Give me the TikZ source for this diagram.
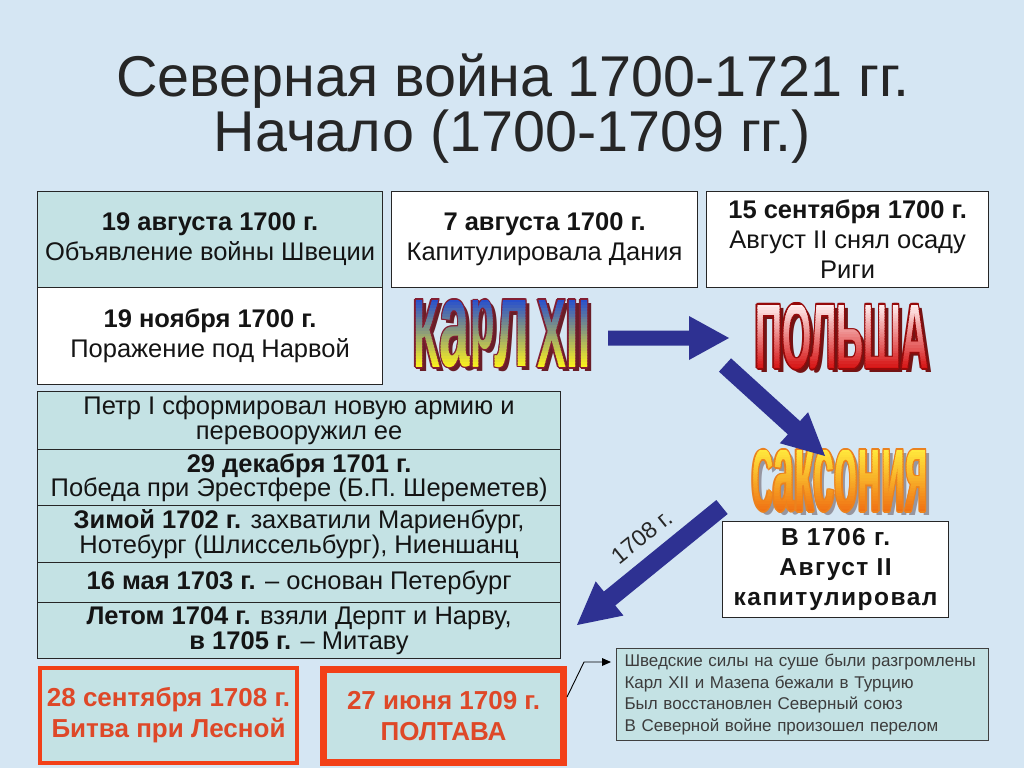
\documentclass[tikz,border=0pt]{standalone}
\usepackage{fontspec}
\setmainfont{Liberation Sans}
\usetikzlibrary{calc}
\definecolor{bgc}{RGB}{213,230,243}
\definecolor{tealc}{RGB}{196,226,228}
\definecolor{redb}{RGB}{242,64,24}
\definecolor{redt}{RGB}{222,72,40}
\definecolor{arrc}{RGB}{46,49,146}
\definecolor{titc}{RGB}{38,38,38}
\definecolor{txtc}{RGB}{20,20,20}
\definecolor{smallc}{RGB}{60,60,60}
\definecolor{karltop}{RGB}{40,80,205}
\definecolor{karlbot}{RGB}{250,240,30}
\definecolor{karlout}{RGB}{130,30,50}
\definecolor{karlsh}{RGB}{105,30,40}
\definecolor{poltop}{RGB}{255,238,238}
\definecolor{polbot}{RGB}{215,20,20}
\definecolor{polout}{RGB}{150,10,10}
\definecolor{polsh}{RGB}{115,20,20}
\definecolor{saxtop}{RGB}{255,232,60}
\definecolor{saxbot}{RGB}{240,115,20}
\definecolor{saxout}{RGB}{235,130,30}
\definecolor{saxsh}{RGB}{150,150,160}

\tikzset{
  box/.style={draw=black!85, line width=1.2pt, inner sep=2pt, align=center, text=txtc, anchor=north west},
  rowbox/.style={box, fill=tealc, minimum width=523pt, font=\fontsize{25.5}{24.5}\selectfont},
  redbox/.style={draw=redb, fill=tealc, align=center, text=redt, anchor=north west, inner sep=2pt, font=\bfseries\fontsize{26}{31}\selectfont},
  artnode/.style={anchor=south west, inner sep=0pt},
}

% one glyph scaled to the full letter height
\newcommand\fh[1]{\resizebox{!}{10pt}{\raisebox{\depth}{#1}}}

% WordArt-like text: x, ybottom, width, height, text, top colour, bottom colour, outline, shadow
\newcommand\myart[9]{%
  \node[artnode, text=#9] at (#1+4,#2+4) {\resizebox{#3pt}{#4pt}{\bfseries #5}};
  \foreach \dx/\dy in {-1.3/0,1.3/0,0/-1.3,0/1.3,-0.9/-0.9,0.9/0.9,-0.9/0.9,0.9/-0.9}
    \node[artnode, text=#8] at ({#1+\dx},{#2+\dy}) {\resizebox{#3pt}{#4pt}{\bfseries #5}};
  \foreach \i in {0,...,23}{%
    \pgfmathtruncatemacro\pp{100-100*\i/23}%
    \begin{scope}
      \clip ({#1-3},{#2-#4+\i*#4/24}) rectangle ({#1+#3+3},{#2-#4+\i*#4/24+#4/24+0.4});
      \node[artnode, text=#6!\pp!#7] at (#1,#2) {\resizebox{#3pt}{#4pt}{\bfseries #5}};
    \end{scope}}%
}

% block arrow: start, end, shaft half width, head half width, head length
\newcommand\blockarrow[5]{%
  \coordinate (tmpC) at ($(#2)!#5!(#1)$);
  \fill[arrc] ($(#1)!#3!90:(#2)$) -- ($(tmpC)!#3!-90:(#1)$) -- ($(tmpC)!#4!-90:(#1)$) -- (#2)
    -- ($(tmpC)!#4!90:(#1)$) -- ($(tmpC)!#3!90:(#1)$) -- ($(#1)!#3!-90:(#2)$) -- cycle;
}

\begin{document}
\begin{tikzpicture}[x=1pt,y=-1pt]
\useasboundingbox (0,0) rectangle (1024,768);
\fill[bgc] (0,0) rectangle (1024,768);

% title
\node[anchor=base, font=\fontsize{57.5}{66}\selectfont, text=titc, inner sep=0] (title1) at (513,96) {Северная война 1700-1721 гг.};
\node[anchor=base, font=\fontsize{57.5}{66}\selectfont, text=titc, inner sep=0] (title2) at (512,151) {Начало (1700-1709 гг.)};

% top boxes
\node[box, fill=tealc, minimum width=345pt, minimum height=96pt, font=\fontsize{25.5}{30}\selectfont] (aug19) at (37,191)
  {\textbf{19 августа 1700 г.}\\Объявление войны Швеции};
\node[box, fill=white, minimum width=345pt, minimum height=97pt, font=\fontsize{25.5}{30}\selectfont] (nov19) at (37,287)
  {\textbf{19 ноября 1700 г.}\\Поражение под Нарвой};
\node[box, fill=white, minimum width=306pt, minimum height=96pt, font=\fontsize{25.5}{30}\selectfont] (aug7) at (391,191)
  {\textbf{7 августа 1700 г.}\\Капитулировала Дания};
\node[box, fill=white, minimum width=282pt, minimum height=96pt, font=\fontsize{25.5}{30}\selectfont] (sep15) at (706,191)
  {\textbf{15 сентября 1700 г.}\\Август II снял осаду\\Риги};

% table
\node[rowbox, minimum height=58pt] (r1) at (37,391) {Петр I сформировал новую армию и\\перевооружил ее};
\node[rowbox, minimum height=56pt] (r2) at (37,449) {\textbf{29 декабря 1701 г.}\\Победа при Эрестфере (Б.П. Шереметев)};
\node[rowbox, minimum height=57pt] (r3) at (37,505) {\textbf{Зимой 1702 г.} захватили Мариенбург,\\Нотебург (Шлиссельбург), Ниеншанц};
\node[rowbox, minimum height=40pt] (r4) at (37,562) {\textbf{16 мая 1703 г.} -- основан Петербург};
\node[rowbox, minimum height=56pt] (r5) at (37,602) {\textbf{Летом 1704 г.} взяли Дерпт и Нарву,\\\textbf{в 1705 г.} -- Митаву};

% red boxes
\node[redbox, line width=4pt, minimum width=257pt, minimum height=95pt] (lesn) at (38,666) {28 сентября 1708 г.\\Битва при Лесной};
\node[redbox, line width=7pt, minimum width=240pt, minimum height=93pt] (polt) at (320,666) {27 июня 1709 г.\\ПОЛТАВА};

% Saxony result box
\node[box, fill=white, minimum width=226pt, minimum height=96pt,
  font=\bfseries\fontsize{24.5}{30}\selectfont\addfontfeatures{LetterSpace=6}] (aug1706) at (722,521)
  {В 1706 г.\\Август II\\капитулировал};

% summary box
\node[box, fill=tealc, draw=black!75, line width=1pt, minimum height=92pt, text width=366pt, align=left, text=smallc,
  font=\fontsize{17}{21.5}\selectfont, inner xsep=3pt] (summ) at (616,648)
  {\hspace*{5pt}Шведские силы на суше были разгромлены\\\hspace*{5pt}Карл XII и Мазепа бежали в Турцию\\\hspace*{5pt}Был восстановлен Северный союз\\\hspace*{5pt}В Северной войне произошел перелом};

% small connector
\coordinate (s1) at (567,697);
\coordinate (s2) at (584,662);
\coordinate (s3) at (611,662);
\draw[black, line width=0.9pt] (s1) -- (s2) -- ($(s3)+(-7,0)$);
\fill[black] (s3) -- ($(s3)+(-9,-4)$) -- ($(s3)+(-9,4)$) -- cycle;

% WordArt
\myart{413}{368}{177}{68}{\fh{К}\fh{а}\fh{р}\fh{л}\hspace{2.5pt}\fh{X}\fh{I}\fh{I}}{karltop}{karlbot}{karlout}{karlsh}
\myart{755}{370}{173}{65}{ПОЛЬША}{poltop}{polbot}{polout}{polsh}
\myart{752}{512}{176}{62}{\fh{С}\fh{а}\fh{к}\fh{с}\fh{о}\fh{н}\fh{и}\fh{я}}{saxtop}{saxbot}{saxout}{saxsh}

% big arrows
\coordinate (a1s) at (608,338);
\coordinate (a1e) at (729,338);
\blockarrow{a1s}{a1e}{7.5pt}{22pt}{40pt}
\coordinate (a2s) at (725,365);
\coordinate (a2e) at (825,456);
\blockarrow{a2s}{a2e}{9pt}{21pt}{42pt}
\coordinate (a3s) at (722,507);
\coordinate (a3e) at (577,625);
\blockarrow{a3s}{a3e}{9pt}{22pt}{42pt}

\node[rotate=39, font=\fontsize{23}{26}\selectfont, text=titc, inner sep=0] (yr1708) at (642,537) {1708 г.};
\end{tikzpicture}
\end{document}
